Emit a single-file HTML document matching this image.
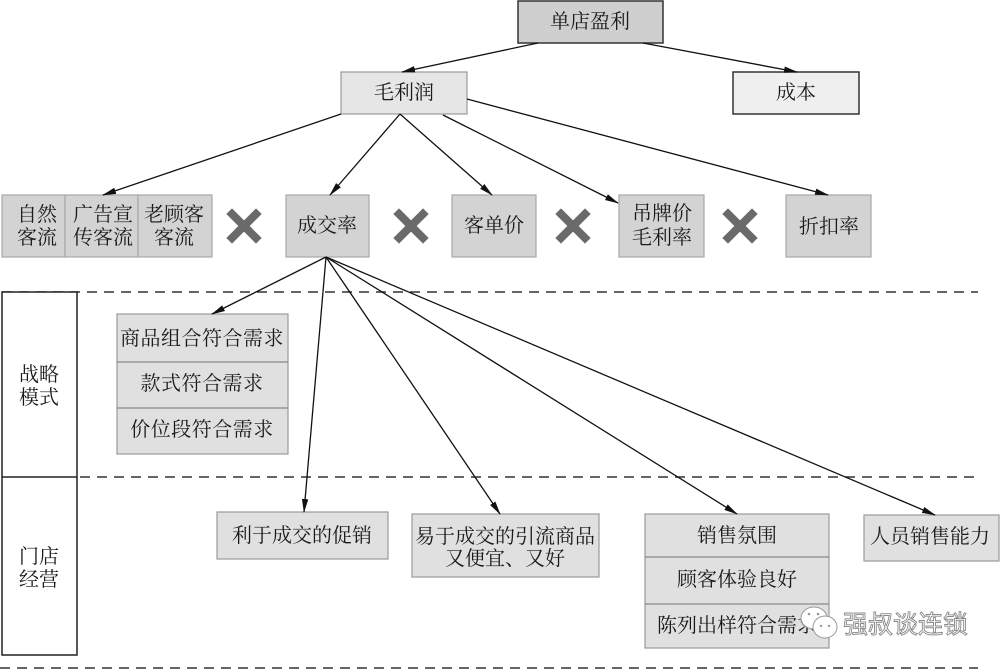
<!DOCTYPE html>
<html><head><meta charset="utf-8"><style>
html,body{margin:0;padding:0;background:#fff;}
svg{display:block;}
text{font-family:"Liberation Serif","Noto Serif CJK SC","Noto Sans CJK SC",serif;font-size:20px;fill:#1a1a1a;}
</style></head><body>
<svg width="1000" height="672" viewBox="0 0 1000 672" xmlns="http://www.w3.org/2000/svg">
<defs>
<marker id="ah" markerWidth="14" markerHeight="8" refX="13" refY="4" orient="auto" markerUnits="userSpaceOnUse">
<path d="M0,0.8 L14,4 L0,7.2 Z" fill="#111"/>
</marker>
</defs>

<!-- dashed lines -->
<g stroke="#333" stroke-width="1.5" stroke-dasharray="10,7" fill="none">
<line x1="2" y1="292" x2="978" y2="292"/>
<line x1="80" y1="477" x2="978" y2="477"/>
<line x1="0" y1="668" x2="978" y2="668"/>
</g>

<!-- left label column -->
<rect x="2" y="292" width="75" height="363" fill="#fff" stroke="#222" stroke-width="1.5"/>
<line x1="2" y1="477" x2="77" y2="477" stroke="#222" stroke-width="1.5"/>
<text x="39" y="375" text-anchor="middle" dominant-baseline="central">战略</text>
<text x="39" y="398" text-anchor="middle" dominant-baseline="central">模式</text>
<text x="39" y="557" text-anchor="middle" dominant-baseline="central">门店</text>
<text x="39" y="580" text-anchor="middle" dominant-baseline="central">经营</text>

<!-- top nodes -->
<rect x="518" y="1" width="145" height="42" fill="#cfcfcf" stroke="#333" stroke-width="1.5"/>
<text x="590" y="22" text-anchor="middle" dominant-baseline="central">单店盈利</text>

<rect x="341" y="72" width="126" height="42" fill="#e6e6e6" stroke="#999" stroke-width="1.2"/>
<text x="404" y="93" text-anchor="middle" dominant-baseline="central">毛利润</text>

<rect x="733" y="72" width="126" height="42" fill="#efefef" stroke="#333" stroke-width="1.5"/>
<text x="796" y="93" text-anchor="middle" dominant-baseline="central">成本</text>

<!-- second row -->
<g fill="#d3d3d3" stroke="#a8a8a8" stroke-width="1.2">
<rect x="2" y="195" width="63" height="62"/>
<rect x="65" y="195" width="73" height="62"/>
<rect x="138" y="195" width="74" height="62"/>
<rect x="286" y="195" width="83" height="62"/>
<rect x="452" y="195" width="84" height="62"/>
<rect x="619" y="195" width="85" height="62"/>
<rect x="786" y="195" width="85" height="62"/>
</g>
<text x="37" y="215" text-anchor="middle" dominant-baseline="central">自然</text>
<text x="37" y="238" text-anchor="middle" dominant-baseline="central">客流</text>
<text x="103" y="215" text-anchor="middle" dominant-baseline="central">广告宣</text>
<text x="103" y="238" text-anchor="middle" dominant-baseline="central">传客流</text>
<text x="174" y="215" text-anchor="middle" dominant-baseline="central">老顾客</text>
<text x="174" y="238" text-anchor="middle" dominant-baseline="central">客流</text>
<text x="327" y="226" text-anchor="middle" dominant-baseline="central">成交率</text>
<text x="494" y="226" text-anchor="middle" dominant-baseline="central">客单价</text>
<text x="662" y="214" text-anchor="middle" dominant-baseline="central">吊牌价</text>
<text x="662" y="238" text-anchor="middle" dominant-baseline="central">毛利率</text>
<text x="829" y="227" text-anchor="middle" dominant-baseline="central">折扣率</text>

<!-- X marks -->
<g stroke="#6a6a6a" stroke-width="8" stroke-linecap="square">
<line x1="232" y1="214" x2="256" y2="238"/><line x1="256" y1="214" x2="232" y2="238"/>
<line x1="399" y1="214" x2="423" y2="238"/><line x1="423" y1="214" x2="399" y2="238"/>
<line x1="561" y1="214" x2="585" y2="238"/><line x1="585" y1="214" x2="561" y2="238"/>
<line x1="728" y1="214" x2="752" y2="238"/><line x1="752" y1="214" x2="728" y2="238"/>
</g>

<!-- strategy stack -->
<g fill="#e0e0e0" stroke="#999" stroke-width="1.2">
<rect x="117" y="314" width="171" height="140"/>
</g>
<line x1="117" y1="362" x2="288" y2="362" stroke="#888" stroke-width="1.2"/>
<line x1="117" y1="408" x2="288" y2="408" stroke="#888" stroke-width="1.2"/>
<text x="202" y="339" text-anchor="middle" dominant-baseline="central" letter-spacing="0.5">商品组合符合需求</text>
<text x="202" y="384" text-anchor="middle" dominant-baseline="central" letter-spacing="0.5">款式符合需求</text>
<text x="202" y="430" text-anchor="middle" dominant-baseline="central" letter-spacing="0.5">价位段符合需求</text>

<!-- store ops boxes -->
<g fill="#e0e0e0" stroke="#999" stroke-width="1.2">
<rect x="217" y="512" width="171" height="47"/>
<rect x="412" y="514" width="187" height="63"/>
<rect x="645" y="514" width="184" height="134"/>
<rect x="864" y="515" width="135" height="46"/>
</g>
<line x1="645" y1="557" x2="829" y2="557" stroke="#888" stroke-width="1.2"/>
<line x1="645" y1="604" x2="829" y2="604" stroke="#888" stroke-width="1.2"/>
<text x="302" y="536" text-anchor="middle" dominant-baseline="central">利于成交的促销</text>
<text x="505" y="537" text-anchor="middle" dominant-baseline="central">易于成交的引流商品</text>
<text x="505" y="559" text-anchor="middle" dominant-baseline="central">又便宜、又好</text>
<text x="737" y="536" text-anchor="middle" dominant-baseline="central">销售氛围</text>
<text x="737" y="580" text-anchor="middle" dominant-baseline="central">顾客体验良好</text>
<text x="737" y="626" text-anchor="middle" dominant-baseline="central">陈列出样符合需求</text>
<text x="930" y="537" text-anchor="middle" dominant-baseline="central">人员销售能力</text>

<!-- arrows -->
<g stroke="#111" stroke-width="1.3" fill="none" marker-end="url(#ah)">
<line x1="538" y1="43" x2="402" y2="72"/>
<line x1="643" y1="43" x2="797" y2="72"/>
<line x1="341" y1="114" x2="103" y2="195"/>
<line x1="400" y1="114" x2="330" y2="195"/>
<line x1="400" y1="114" x2="492" y2="195"/>
<line x1="443" y1="115" x2="618" y2="203"/>
<line x1="467" y1="99" x2="828" y2="195"/>
<line x1="326" y1="257" x2="212" y2="314"/>
<line x1="326" y1="257" x2="304" y2="512"/>
<line x1="326" y1="257" x2="500" y2="514"/>
<line x1="326" y1="257" x2="737" y2="514"/>
<line x1="326" y1="257" x2="935" y2="515"/>
</g>

<!-- watermark -->
<g fill="#fff" stroke="#999" stroke-width="1">
<ellipse cx="814" cy="618" rx="13" ry="11"/>
<ellipse cx="825" cy="627" rx="12" ry="11"/>
</g>
<g fill="#999">
<circle cx="809" cy="614" r="1.3"/><circle cx="818" cy="614" r="1.3"/>
<circle cx="821" cy="626" r="1.2"/><circle cx="829" cy="626" r="1.2"/>
</g>
<text x="843" y="625" dominant-baseline="central" style="font-family:'Liberation Sans','Noto Sans CJK SC',sans-serif;font-size:25px;fill:#fff;stroke:#8a8a8a;stroke-width:0.9px;">强叔谈连锁</text>
</svg>
</body></html>
